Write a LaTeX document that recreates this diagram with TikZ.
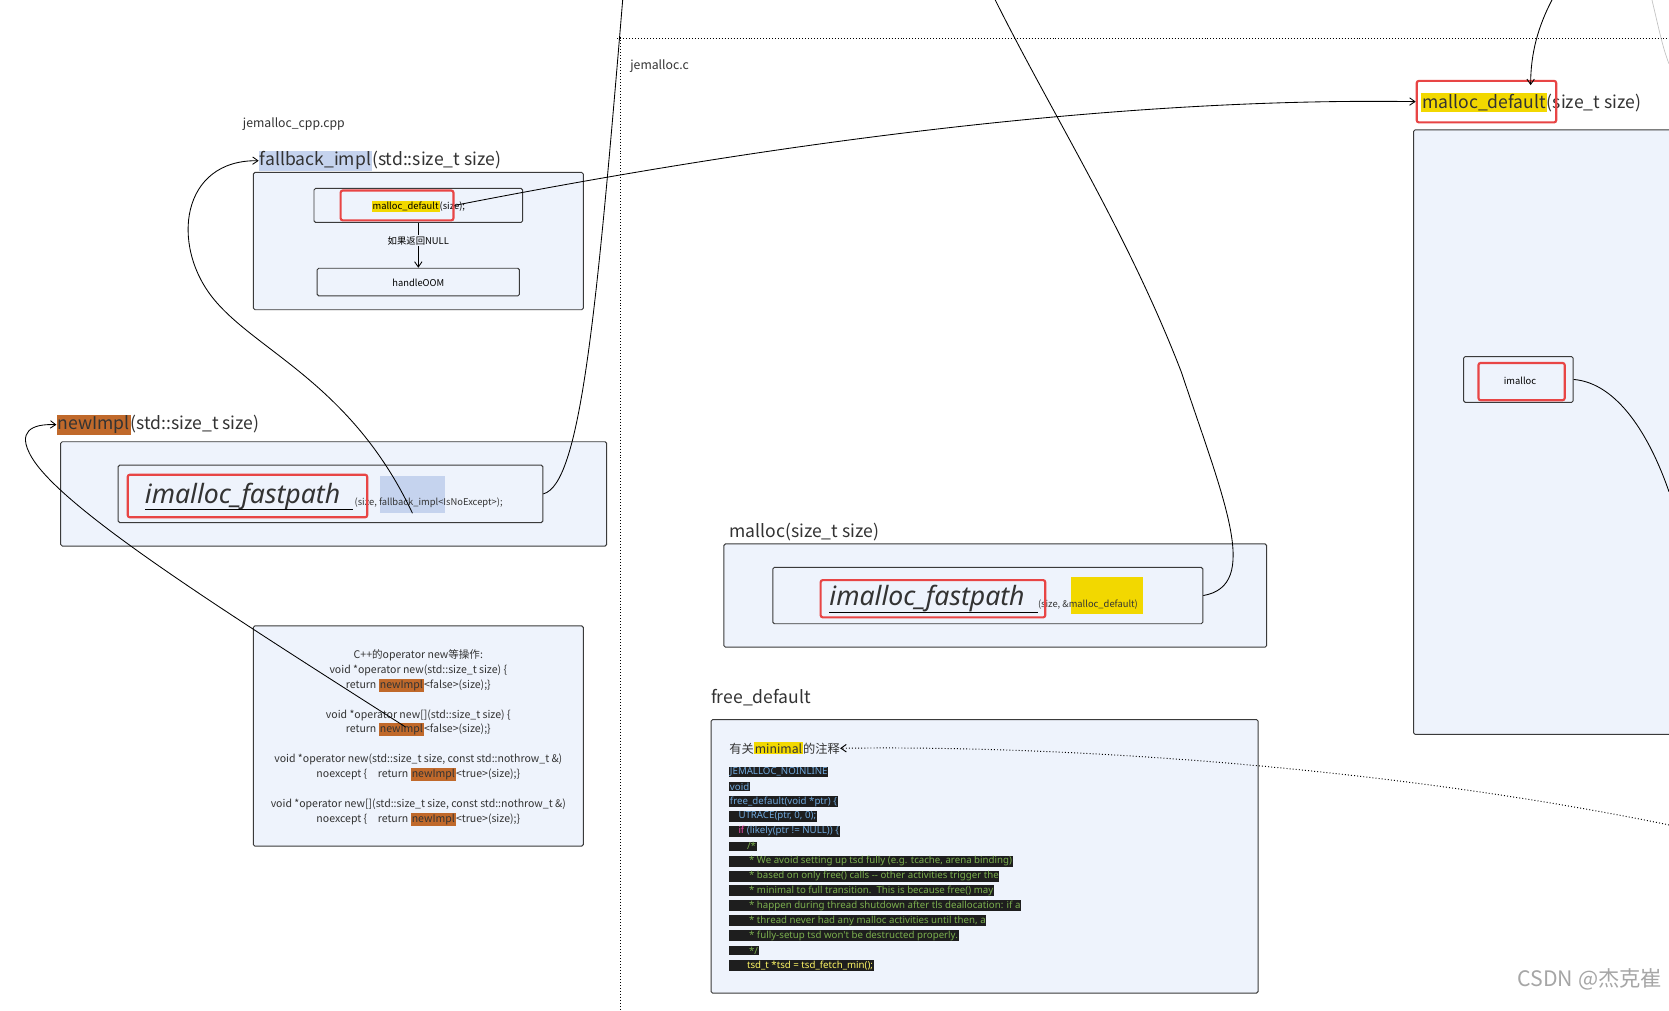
\documentclass[tikz,border=0pt]{standalone}
\usepackage{fontspec}
\setmainfont{Noto Sans CJK SC}
\newfontfamily\latf{Noto Sans}
\usetikzlibrary{arrows.meta}
\definecolor{boxfill}{HTML}{EEF3FC}
\definecolor{edge}{HTML}{3A3A3A}
\definecolor{yel}{HTML}{F2D800}
\definecolor{org}{HTML}{C0692B}
\definecolor{lblue}{HTML}{C5D3EE}
\definecolor{redr}{HTML}{E84545}
\definecolor{cbl}{HTML}{6FA8DC}
\definecolor{cgr}{HTML}{7BAF4E}
\definecolor{cbg}{HTML}{1E1E1E}
\setlength\fboxsep{1pt}
\tikzset{
 box/.style={draw=edge,line width=0.9pt,fill=boxfill,rounded corners=1.5pt,inner sep=0pt},
 ibox/.style={draw=edge,line width=0.9pt,fill=white,rounded corners=1.5pt,inner sep=0pt},
 red/.style={draw=redr,line width=2pt,rounded corners=2pt,inner sep=0pt},
 lbl/.style={anchor=west,inner sep=0pt,text=black!80},
 code/.style={anchor=west,fill=cbg,inner sep=0.6pt,font=\latf\fontsize{9.1}{9}\selectfont,text=cbl},
 conn/.style={draw=black,line width=0.8pt},
 arr/.style={-{Straight Barb[length=5pt,width=7pt]}},
}
\begin{document}
\begin{tikzpicture}[x=1pt,y=-1pt]
\useasboundingbox[fill=white] (0,0) rectangle (1568,949);
% separators
\draw[dotted,line width=0.8pt] (583,35) -- (583,949);
\draw[dotted,line width=0.8pt] (580,36) -- (1568,36);
\node[lbl,font=\fontsize{11.5}{12}\selectfont] (jc) at (592,62) {jemalloc.c};
\node[lbl,font=\fontsize{11.5}{12}\selectfont] (jcpp) at (228,117) {jemalloc\_cpp.cpp};
% fallback_impl
\node[lbl,font=\fontsize{16.5}{17}\selectfont] (fbt) at (243,151) {\colorbox{lblue}{fallback\_impl}(std::size\_t size)};
\node[box,minimum width=310,minimum height=129] (fb) at (393,226.5) {};
\node[ibox,fill=boxfill,minimum width=196,minimum height=32] (md) at (393,193) {};
\node[font=\fontsize{8.8}{9}\selectfont] (mdt) at (393,194) {\colorbox{yel}{malloc\_default}(size);};
\node[red,minimum width=106,minimum height=28] (mdr) at (373,193) {};
\node[ibox,fill=boxfill,minimum width=190,minimum height=26] (oom) at (393,265) {};
\node[font=\fontsize{8.8}{9}\selectfont] at (393,266) {handleOOM};
\draw[conn,arr] (md.south) -- node[pos=0.4,fill=boxfill,inner sep=1pt,font=\fontsize{8.8}{9}\selectfont]{如果返回NULL} (oom.north);
% newImpl
\node[lbl,font=\fontsize{16.5}{17}\selectfont] (nit) at (53,399) {\colorbox{org}{newImpl}(std::size\_t size)};
\node[box,minimum width=513,minimum height=98] (ni) at (313.5,464) {};
\node[ibox,fill=boxfill,minimum width=399,minimum height=54] (fp1) at (310.5,464) {};
\node[fill=lblue,minimum width=61,minimum height=35,inner sep=0pt] (fbh) at (387.5,464.5) {};
\node[lbl,font=\latf\fontsize{25}{26}\itshape] (fp1t) at (136,466) {imalloc\_fastpath};
\draw[line width=0.8pt] (136,479) -- (332,479);
\node[lbl,font=\fontsize{8.8}{9}\selectfont] at (333,472) {(size, fallback\_impl<IsNoExcept>);};
\node[red,minimum width=225,minimum height=40] (fp1r) at (232.5,466) {};
% operator new box
\node[box,minimum width=310,minimum height=207] (op) at (393,691.5) {};
\node[align=center,font=\fontsize{9.9}{14}\selectfont,text=black!80] (opt) at (393,693) {C++的operator new等操作:\\
void *operator new(std::size\_t size) \{\\
return \colorbox{org}{newImpl}<false>(size);\}\\[14pt]
void *operator new[](std::size\_t size) \{\\
return \colorbox{org}{newImpl}<false>(size);\}\\[14pt]
void *operator new(std::size\_t size, const std::nothrow\_t \&)\\
noexcept \{\quad return \colorbox{org}{newImpl}<true>(size);\}\\[14pt]
void *operator new[](std::size\_t size, const std::nothrow\_t \&)\\
noexcept \{\quad return \colorbox{org}{newImpl}<true>(size);\}};
\coordinate (nref) at (381,683);
% malloc
\node[lbl,font=\fontsize{16.5}{17}\selectfont] (mt) at (685,500) {malloc(size\_t size)};
\node[box,minimum width=510,minimum height=97] (mb) at (935,559.5) {};
\node[ibox,fill=boxfill,minimum width=404,minimum height=53] (fp2) at (928,559.5) {};
\node[fill=yel,minimum width=68,minimum height=35,inner sep=0pt] (yh) at (1040,559.5) {};
\node[lbl,font=\latf\fontsize{25}{26}\itshape] (fp2t) at (779,562) {imalloc\_fastpath};
\draw[line width=0.8pt] (779,575) -- (975,575);
\node[lbl,font=\fontsize{8.8}{9}\selectfont] at (975,568) {(size, \&malloc\_default)};
\node[red,minimum width=211,minimum height=35] (fp2r) at (876.5,562.5) {};
% free_default
\node[lbl,font=\fontsize{16.5}{17}\selectfont] (ft) at (668,655) {free\_default};
\node[box,minimum width=514,minimum height=257] (fd) at (925,804.5) {};
\node[lbl,font=\fontsize{11.5}{12}\selectfont] (mn) at (685,703) {有关\colorbox{yel}{minimal}的注释};
\node[code] at (685,725) {JEMALLOC\_NOINLINE};
\node[code] at (685,739) {void};
\node[code] at (685,753) {free\_default(void *ptr) \{};
\node[code] at (685,767) {\hspace{8pt}UTRACE(ptr, 0, 0);};
\node[code] at (685,781) {\hspace{8pt}\textcolor{magenta!70}{if} (likely(ptr != NULL)) \{};
\node[code,text=cgr] at (685,795) {\hspace{16pt}/*};
\node[code,text=cgr] at (685,809) {\hspace{18pt}* We avoid setting up tsd fully (e.g. tcache, arena binding)};
\node[code,text=cgr] at (685,823) {\hspace{18pt}* based on only free() calls -- other activities trigger the};
\node[code,text=cgr] at (685,837) {\hspace{18pt}* minimal to full transition.\ \ This is because free() may};
\node[code,text=cgr] at (685,851) {\hspace{18pt}* happen during thread shutdown after tls deallocation: if a};
\node[code,text=cgr] at (685,865) {\hspace{18pt}* thread never had any malloc activities until then, a};
\node[code,text=cgr] at (685,879) {\hspace{18pt}* fully-setup tsd won't be destructed properly.};
\node[code,text=cgr] at (685,893) {\hspace{18pt}*/};
\node[code,text=yellow!60!white] at (685,907) {\hspace{16pt}tsd\_t *tsd = tsd\_fetch\_min();};
% malloc_default right
\node[lbl,font=\fontsize{16.5}{17}\selectfont] (mdt2) at (1335,96) {\colorbox{yel}{malloc\_default}(size\_t size)};
\node[red,minimum width=131,minimum height=39] (mdr2) at (1396.5,95.5) {};
\draw[draw=edge,line width=0.9pt,fill=boxfill,rounded corners=1.5pt] (1600,122) -- (1328,122) -- (1328,690) -- (1600,690);
\node[ibox,fill=boxfill,minimum width=103,minimum height=43] (im) at (1426.5,356.5) {};
\node[font=\fontsize{8.8}{9}\selectfont] at (1428,358) {imalloc};
\node[red,minimum width=81,minimum height=35] (imr) at (1429.5,358.5) {};
% off-canvas coordinates
\coordinate (t1) at (585,0);
\coordinate (t2) at (935,0);
\coordinate (t3) at (1458,0);
\coordinate (r1) at (1568,462);
\coordinate (r2) at (1568,775);
\coordinate (t4) at (1552,0);
\coordinate (r4) at (1568,60);
% connectors
\draw[conn,arr] (mdr.east) .. controls (800,120) and (1100,92) .. (mdr2.west);
\draw[conn,arr] (fbh.south) .. controls (330,360) and (240,330) .. (200,280) .. controls (160,230) and (170,150) .. (fbt.west);
\draw[conn,arr] (nref) .. controls (220,580) and (60,480) .. (30,430) .. controls (15,405) and (30,398) .. (nit.west);
\draw[conn] (fp1.east) .. controls (545,455) and (560,300) .. (t1);
\draw[conn] (fp2.east) .. controls (1185,550) and (1150,470) .. (1110,350) .. controls (1060,220) and (990,110) .. (t2);
\draw[conn,arr] (t3) .. controls (1445,25) and (1438,50) .. (1438,80);
\draw[conn] (im.east) .. controls (1520,360) and (1550,410) .. (r1);
\draw[dotted,line width=0.9pt,arr] (r2) .. controls (1300,720) and (1000,700) .. (mn.east);
\draw[black!25,line width=0.6pt] (t4) .. controls (1558,25) and (1562,45) .. (r4);
\node[anchor=east,font=\fontsize{20}{22}\selectfont,text=black!35] (wm) at (1565,920) {CSDN @杰克崔};
\end{tikzpicture}
\end{document}
